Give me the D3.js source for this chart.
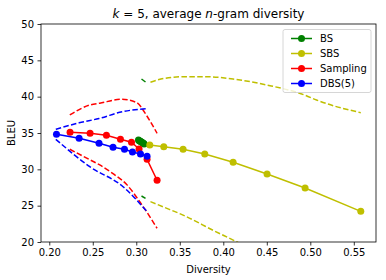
<!DOCTYPE html>
<html lang="en">
<head>
<meta charset="utf-8">
<title>k = 5, average n-gram diversity</title>
<script src="https://d3js.org/d3.v7.min.js"></script>
<style>
  body { margin: 0; background: #fff; }
  svg text { font-family: "DejaVu Sans", sans-serif; fill: #000; }
  .tick text { font-size: 10px; }
  .domain { display: none; }
  .tick line { stroke: #000; stroke-width: 0.8; }
</style>
</head>
<body>
<svg id="chart" width="386" height="280"></svg>
<script>
// series: diversity (x) and BLEU (y)
const bsX = [0.3025, 0.3035, 0.3045, 0.3055, 0.3065, 0.3075, 0.3085, 0.309];
const bsY = [34.05, 33.95, 33.88, 33.8, 33.72, 33.64, 33.56, 33.5];
const sbsX = [0.3155, 0.3316, 0.3538, 0.3787, 0.4113, 0.4503, 0.494, 0.558];
const sbsY = [33.35, 33.12, 32.76, 32.11, 30.97, 29.36, 27.43, 24.22];
const sampX = [0.2239, 0.2469, 0.2657, 0.2818, 0.2945, 0.3032, 0.3124, 0.3239];
const sampY = [35.1, 34.96, 34.68, 34.13, 33.72, 32.8, 31.38, 28.5];
const dbsX = [0.2083, 0.2343, 0.2572, 0.2733, 0.2864, 0.2956, 0.3048, 0.3124];
const dbsY = [34.82, 34.27, 33.58, 33.03, 32.76, 32.39, 32.11, 31.8];

// dashed bands (upper / lower)
const bsUpX = [0.306, 0.3106];
const bsUpY = [42.43, 42.02];
const bsLoX = [0.306, 0.3106];
const bsLoY = [26.33, 26.0];
const sbsUpX = [0.3163, 0.3316, 0.3557, 0.3787, 0.4113, 0.4503, 0.494, 0.5071, 0.558];
const sbsUpY = [41.98, 42.5, 42.75, 42.75, 42.43, 41.6, 40.2, 39.54, 37.8];
const sbsLoX = [0.3163, 0.3316, 0.3538, 0.373, 0.3787, 0.415, 0.4503];
const sbsLoY = [25.55, 24.8, 23.7, 22.57, 22.2, 20.05, 17.9];
const sampUpX = [0.2236, 0.2466, 0.258, 0.283, 0.3002, 0.3124, 0.3239];
const sampUpY = [37.48, 38.85, 39.1, 39.64, 39.2, 37.3, 34.96];
const sampLoX = [0.2236, 0.2469, 0.258, 0.2733, 0.2887, 0.304, 0.3239];
const sampLoY = [32.76, 31.3, 30.6, 29.4, 27.94, 25.55, 21.89];
const dbsUpX = [0.2075, 0.2343, 0.2572, 0.2848, 0.3117];
const dbsUpY = [35.51, 36.4, 37.0, 37.95, 38.35];
const dbsLoX = [0.2075, 0.2466, 0.2848, 0.3117];
const dbsLoY = [34.13, 30.36, 27.61, 24.27];

const names = ["BS", "SBS", "Sampling", "DBS(5)"];
const colors = ["#008000", "#bfbf00", "#ff0000", "#0000ff"];
const xTicks = [0.20, 0.25, 0.30, 0.35, 0.40, 0.45, 0.50, 0.55];
const yTicks = [20, 25, 30, 35, 40, 45, 50];

const zip = (xs, ys) => xs.map((x, i) => [x, ys[i]]);
const series = [
  { pts: zip(bsX, bsY), up: zip(bsUpX, bsUpY), lo: zip(bsLoX, bsLoY) },
  { pts: zip(sbsX, sbsY), up: zip(sbsUpX, sbsUpY), lo: zip(sbsLoX, sbsLoY) },
  { pts: zip(sampX, sampY), up: zip(sampUpX, sampUpY), lo: zip(sampLoX, sampLoY) },
  { pts: zip(dbsX, dbsY), up: zip(dbsUpX, dbsUpY), lo: zip(dbsLoX, dbsLoY) }
];

const m = { left: 41, right: 376, top: 24, bottom: 242 };
const svg = d3.select("#chart");
const x = d3.scaleLinear().domain([0.1905, 0.5755]).range([m.left, m.right]);
const y = d3.scaleLinear().domain([20, 50]).range([m.bottom, m.top]);

svg.append("clipPath").attr("id", "clip")
  .append("rect").attr("x", m.left).attr("y", m.top)
  .attr("width", m.right - m.left).attr("height", m.bottom - m.top);

// axes
svg.append("g").attr("transform", `translate(0,${m.bottom})`)
  .call(d3.axisBottom(x).tickValues(xTicks).tickFormat(d3.format(".2f")).tickSize(3.5).tickPadding(3.5));
svg.append("g").attr("transform", `translate(${m.left},0)`)
  .call(d3.axisLeft(y).tickValues(yTicks).tickSize(3.5).tickPadding(3.5));

const line = d3.line().x(d => x(d[0])).y(d => y(d[1]));
const curve = d3.line().x(d => x(d[0])).y(d => y(d[1])).curve(d3.curveMonotoneX);
const plot = svg.append("g").attr("clip-path", "url(#clip)");

series.forEach((s, i) => {
  [s.up, s.lo].forEach(band => {
    plot.append("path").attr("d", curve(band))
      .attr("fill", "none").attr("stroke", colors[i])
      .attr("stroke-width", 1.5).attr("stroke-dasharray", "5.5,2.4");
  });
});

series.forEach((s, i) => {
  plot.append("path").attr("d", line(s.pts))
    .attr("fill", "none").attr("stroke", colors[i]).attr("stroke-width", 1.5);
  plot.selectAll(null).data(s.pts).enter().append("circle")
    .attr("cx", d => x(d[0])).attr("cy", d => y(d[1]))
    .attr("r", 3.5).attr("fill", colors[i]);
});

// frame
svg.append("rect").attr("x", m.left).attr("y", m.top)
  .attr("width", m.right - m.left).attr("height", m.bottom - m.top)
  .attr("fill", "none").attr("stroke", "#000").attr("stroke-width", 0.8);

// title and labels
const title = svg.append("text").attr("x", (m.left + m.right) / 2).attr("y", 18)
  .attr("text-anchor", "middle").style("font-size", "12px");
title.append("tspan").style("font-style", "italic").text("k");
title.append("tspan").text(" = 5, average ");
title.append("tspan").style("font-style", "italic").text("n");
title.append("tspan").text("-gram diversity");

svg.append("text").attr("x", (m.left + m.right) / 2).attr("y", 273)
  .attr("text-anchor", "middle").style("font-size", "10px").text("Diversity");
svg.append("text").attr("transform", `translate(15,${(m.top + m.bottom) / 2}) rotate(-90)`)
  .attr("text-anchor", "middle").style("font-size", "10px").text("BLEU");

// legend
const lg = svg.append("g");
lg.append("rect").attr("x", 283).attr("y", 29.5).attr("width", 88).attr("height", 63)
  .attr("rx", 2).attr("fill", "#fff").attr("fill-opacity", 0.8)
  .attr("stroke", "#ccc").attr("stroke-width", 0.8);
names.forEach((n, i) => {
  const ly = 38.5 + i * 15;
  lg.append("line").attr("x1", 291).attr("x2", 312).attr("y1", ly).attr("y2", ly)
    .attr("stroke", colors[i]).attr("stroke-width", 1.5);
  lg.append("circle").attr("cx", 301.5).attr("cy", ly).attr("r", 3.5).attr("fill", colors[i]);
  lg.append("text").attr("x", 320).attr("y", ly + 3.5).style("font-size", "10px").text(n);
});
</script>
</body>
</html>
